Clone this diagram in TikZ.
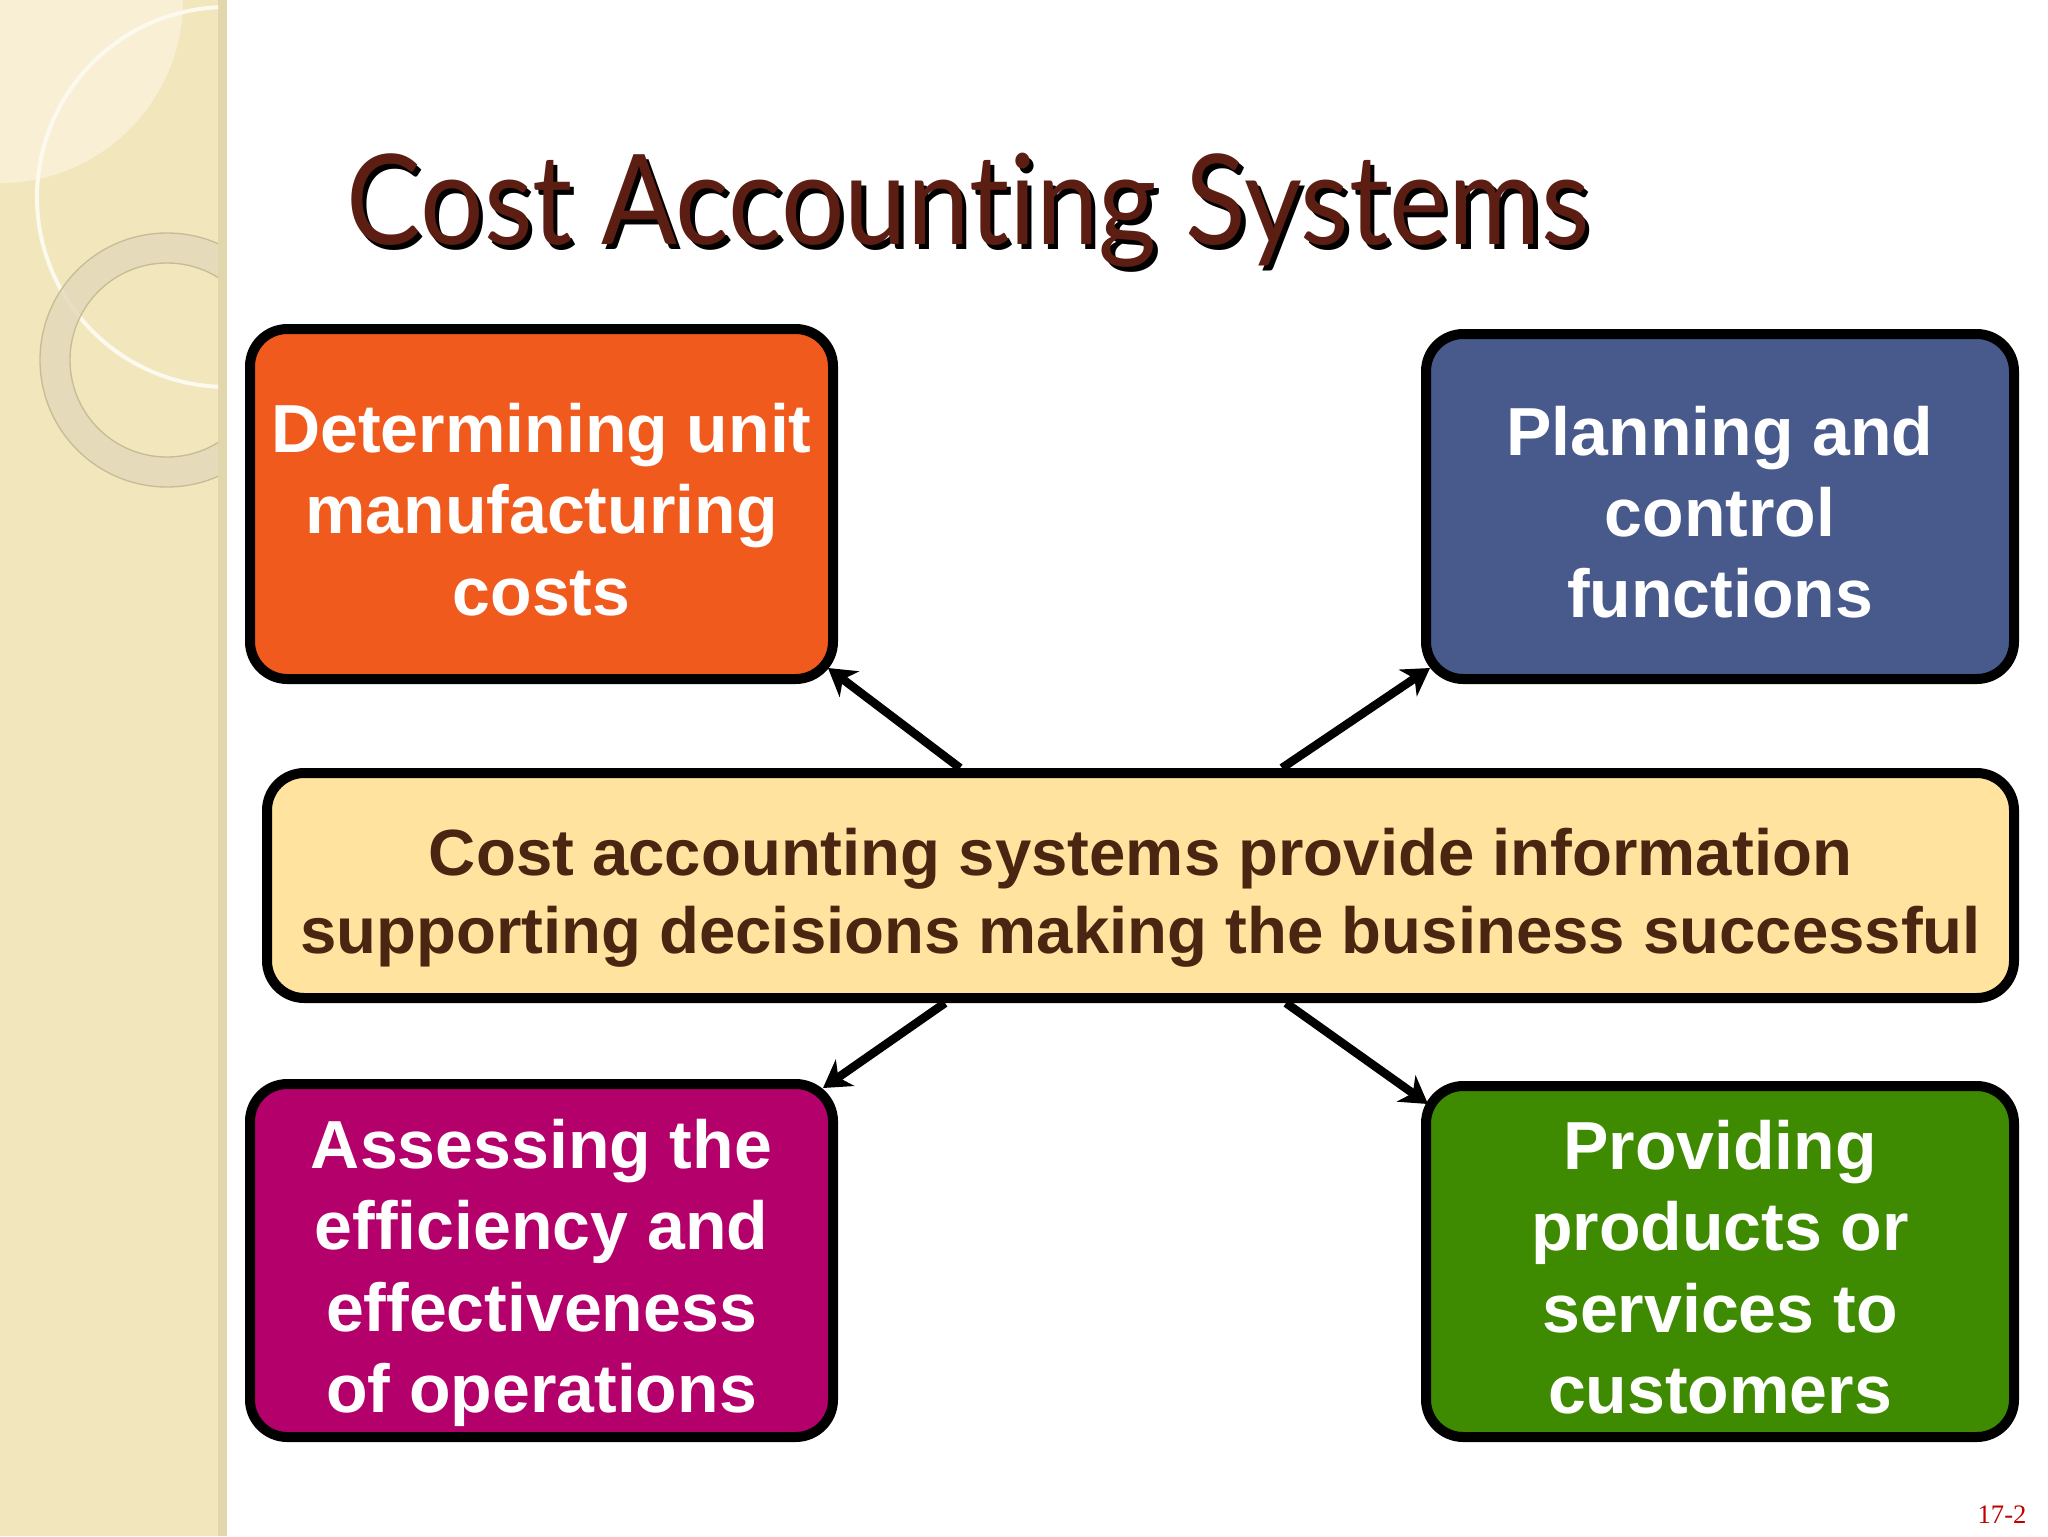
\documentclass[tikz,border=0pt]{standalone}
\usepackage{fontspec}
\setmainfont{Liberation Sans}
\newfontfamily\titlefont[Ligatures=NoCommon]{Lato}
\newfontfamily\pagefont{Liberation Serif}
\usetikzlibrary{arrows.meta,calc}

\definecolor{stripbg}{RGB}{242,230,188}
\definecolor{stripedge}{RGB}{226,214,172}
\definecolor{lenscol}{RGB}{248,239,212}
\definecolor{ringcol}{RGB}{226,216,186}
\definecolor{ringline}{RGB}{200,188,150}
\definecolor{titlebrown}{RGB}{92,30,18}
\definecolor{orangebox}{RGB}{240,90,28}
\definecolor{bluebox}{RGB}{72,90,140}
\definecolor{midbox}{RGB}{255,227,158}
\definecolor{midtext}{RGB}{74,38,18}
\definecolor{magentabox}{RGB}{180,0,106}
\definecolor{greenbox}{RGB}{62,138,0}
\definecolor{pagered}{RGB}{192,0,0}

% line struts, so that every box sets its lines the same way
\newcommand\topstrut{\rule{0pt}{1.09em}}
\newcommand\botstrut{\rule[-0.21em]{0pt}{0pt}}

\tikzset{every picture/.style={line width=0.75pt}}
\tikzset{
  card/.style={draw=black, line width=7.5pt, rounded corners=28pt, inner sep=0pt,
    align=center, text=white, font=\fontsize{51}{61}\selectfont\bfseries},
  link/.style={line width=6.4pt, -{Stealth[length=20pt,width=24pt,inset=6pt]}},
}

\begin{document}
\begin{tikzpicture}[x=0.75pt,y=0.75pt,yscale=-1,xscale=1]
\useasboundingbox (0,0) rectangle (2048,1536);

%Shape: Rectangle (side strip)
\fill[stripbg] (0,0) rectangle (227,1536);
\fill[stripedge] (218,0) rectangle (227,1536);
\begin{scope}
  \clip (0,0) rectangle (218,1536);
  %Shape: Circle (light quarter)
  \fill[lenscol] (0,0) circle (183);
  %Shape: Circle (thin arc)
  \draw[white!60!lenscol, line width=3pt] (227,197) circle (190);
  %Shape: Ring
  \fill[ringcol, opacity=0.8, even odd rule] (167,360) circle (127) (167,360) circle (97);
  \draw[ringline, line width=1pt] (167,360) circle (127) (167,360) circle (97);
\end{scope}

% Text Node
\node[anchor=base west, inner sep=0pt, text=titlebrown, font=\titlefont\fontsize{94}{94}\selectfont] (title) at (346,244)
  {\scalebox{0.895}[1]{\rlap{\kern3.75pt\raisebox{-3.75pt}{\color{black}Cost Accounting Systems}}Cost Accounting Systems}};

%Rounded Rect
\node[card, fill=orangebox, minimum width=437.25pt, minimum height=262.5pt] (det) at (541.5,504)
  {\topstrut Determining unit\\manufacturing\\costs\botstrut};
%Rounded Rect
\node[card, fill=bluebox, minimum width=441pt, minimum height=258.75pt] (plan) at (1720,506.5)
  {\topstrut Planning and\\control\\functions\botstrut};
%Rounded Rect
\node[card, fill=midbox, text=midtext, font=\fontsize{49}{58.5}\selectfont\bfseries, minimum width=1310.25pt, minimum height=168.75pt] (mid) at (1140.5,885.5)
  {\topstrut Cost accounting systems provide information\\supporting decisions making the business successful\botstrut};
%Rounded Rect
\node[card, fill=magentabox, minimum width=437.25pt, minimum height=264.75pt] (asse) at (541.5,1260.5)
  {\topstrut Assessing the\\efficiency and\\effectiveness\\of operations\botstrut};
%Rounded Rect
\node[card, fill=greenbox, minimum width=441pt, minimum height=263.25pt] (prov) at (1720,1261.5)
  {\topstrut Providing\\products or\\services to\\customers\botstrut};

%Straight Lines
\draw[link] ($(mid.north west)+(698,0)$) -- ($(det.south east)+(-10,-16)$);
\draw[link] ($(mid.north west)+(1020,0)$) -- ($(plan.south west)+(9,-16)$);
\draw[link] ($(mid.south west)+(683,0)$) -- ($(asse.north east)+(-15,9)$);
\draw[link] ($(mid.south west)+(1024,0)$) -- ($(prov.north west)+(7,23)$);

% Text Node
\node[anchor=base east, inner sep=0pt, text=pagered, font=\pagefont\fontsize{20}{20}\selectfont] (page) at (2027,1523) {17-2};

\end{tikzpicture}
\end{document}
